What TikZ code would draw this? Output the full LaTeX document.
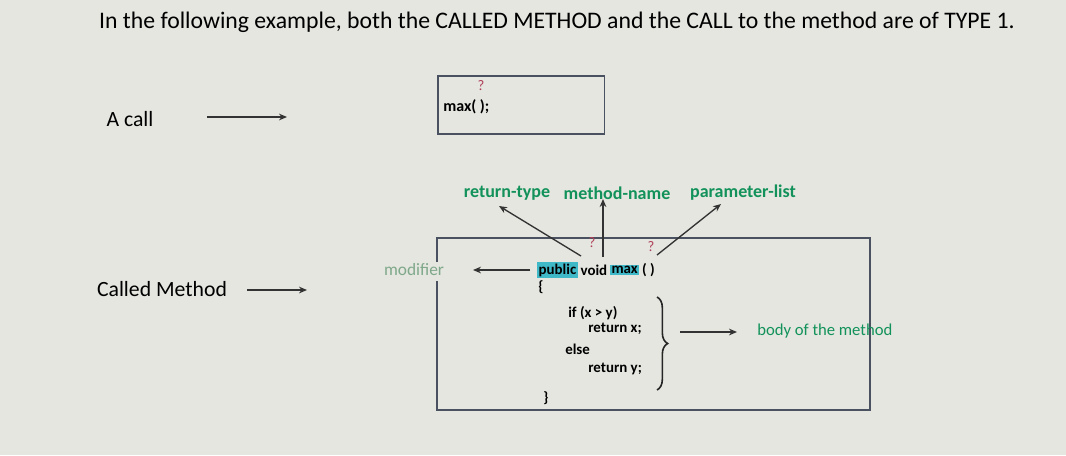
\documentclass[tikz,border=0pt]{standalone}
\usepackage{fontspec}
\setmainfont{Carlito}
\usetikzlibrary{decorations.pathreplacing,arrows.meta}
\definecolor{bg}{HTML}{E4E6DF}
\definecolor{grn}{HTML}{12925A}
\definecolor{lgrn}{HTML}{7FA88A}
\definecolor{hl}{HTML}{3FB8C8}
\definecolor{qred}{HTML}{B0405A}
\definecolor{boxc}{HTML}{4A5160}
\begin{document}
\begin{tikzpicture}[x=0.75pt,y=-0.75pt,
  lbl/.style={font=\fontsize{16.3}{18}\selectfont,inner sep=0},
  grl/.style={font=\bfseries\fontsize{13.5}{15}\selectfont,text=grn,inner sep=0},
  code/.style={font=\bfseries\fontsize{11.2}{13}\selectfont,inner sep=0,anchor=west},
  q/.style={font=\fontsize{11}{12}\selectfont,text=qred,inner sep=0},
  arr/.style={-{Stealth[length=6pt,width=5pt]},line width=1pt,black!80},
  bx/.style={draw=boxc,line width=1.2pt}]
\fill[bg] (0,0) rectangle (1066,455);
\useasboundingbox (0,0) rectangle (1066,455);
\node[lbl,font=\fontsize{17.8}{20}\selectfont] (title) at (557,22) {In the following example, both the CALLED METHOD and the CALL to the method are of TYPE 1.};
\node[lbl] (acall) at (130,119) {A call};
\coordinate (a1) at (207,117); \coordinate (a2) at (287,117);
\draw[arr] (a1) -- (a2);
\node[bx,minimum width=125pt,minimum height=43.5pt,anchor=north west] (callbox) at (437,75) {};
\node[code,font=\bfseries\fontsize{12}{14}\selectfont] (maxcall) at (443,107) {max( );};
\node[q] (q0) at (481,86) {?};
\node[lbl] (called) at (162,289) {Called Method};
\coordinate (c1) at (247,290); \coordinate (c2) at (307,290);
\draw[arr] (c1) -- (c2);
\draw[bx] (437,262) -- (437,238) -- (870,238) -- (870,410) -- (437,410) -- (437,281);
\node[font=\fontsize{13}{15}\selectfont,text=lgrn,inner sep=0] (modifier) at (414,270) {modifier};
\node[code,fill=hl,inner sep=1pt] (public) at (537,270) {public};
\node[code,anchor=west] (void) at (public.east) {\,void\,};
\node[code,fill=hl,inner sep=1pt,anchor=west] (mx) at (void.east) {max};
\node[code,anchor=west] (par) at (mx.east) {\,( )};
\coordinate (md0) at (530,270); \coordinate (md1) at (473,270);
\draw[arr] (md0) -- (md1);
\node[q] (q1) at (592,243) {?};
\node[q] (q2) at (651,247) {?};
\node[grl] (rt) at (507,193) {return-type};
\node[grl] (mn) at (617,193) {method-name};
\node[grl] (pl) at (743,193) {parameter-list};
\coordinate (r0) at (581,256); \coordinate (r1) at (499,206);
\coordinate (m0) at (603,257); \coordinate (m1) at (603,199);
\coordinate (p0) at (657,255); \coordinate (p1) at (721,204);
\draw[arr] (r0) -- (r1);
\draw[arr] (m0) -- (m1);
\draw[arr] (p0) -- (p1);
\node[code] (ob) at (538,287) {\{};
\node[code] (l1) at (568,313) {if (x > y)};
\node[code] (l2) at (588,329) {return x;};
\node[code] (l3) at (565,349) {else};
\node[code] (l4) at (588,369) {return y;};
\node[code] (cb) at (543,398) {\}};
\coordinate (b1) at (657,297); \coordinate (b2) at (657,390);
\draw[decorate,decoration={brace,amplitude=8pt},line width=1.2pt,black!85] (b1) -- (b2);
\coordinate (d1) at (680,332);
\node[grl,font=\fontsize{12.5}{14}\selectfont,anchor=west] (body) at (757,331) {body of the method};
\draw[arr] (d1) -- (737,332);
\end{tikzpicture}
\end{document}
